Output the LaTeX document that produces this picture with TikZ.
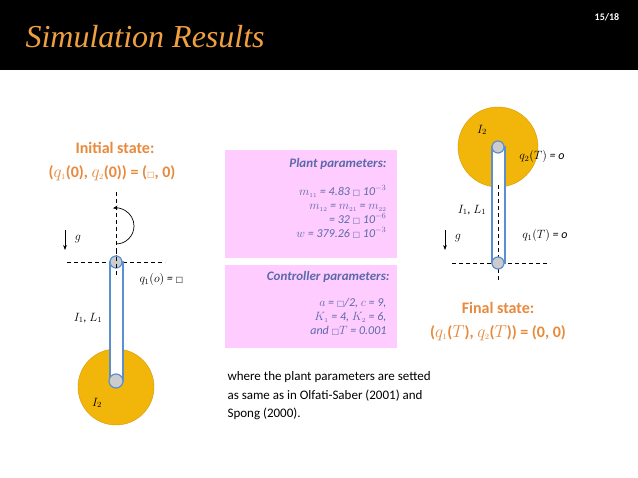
\documentclass[tikz,border=0pt]{standalone}
\usepackage{fontspec}
\setmainfont{Carlito}
\newfontfamily\boxfont{DejaVu Sans}
\newfontfamily\titlefont{Liberation Serif}
\usetikzlibrary{arrows.meta}
\definecolor{ttl}{HTML}{F0A040}
\definecolor{org}{HTML}{E8893C}
\definecolor{pnk}{HTML}{FFCCFF}
\definecolor{blu}{HTML}{5A6AA8}
\definecolor{ball}{HTML}{F2B50A}
\definecolor{balle}{HTML}{D89A00}
\definecolor{lnk}{HTML}{5B8FD0}
\newcommand{\bx}{{\boxfont\fontsize{8}{8}\selectfont □}}
\begin{document}
\begin{tikzpicture}[x=1pt,y=-1pt,
  dsh/.style={line width=0.7pt,dash pattern=on 4pt off 3pt},
  lbl/.style={font=\itshape\fontsize{12}{13}\selectfont},
  st/.style={text=org,font=\bfseries\fontsize{16}{18}\selectfont},
  par/.style={text=blu,font=\itshape\fontsize{12}{14}\selectfont,align=right,anchor=east},
  pbox/.style={fill=pnk,draw=none}]
\useasboundingbox (0,0) rectangle (638,478);
\fill[white] (0,0) rectangle (638,478);
\fill[black] (0,0) rectangle (638,70);
\node[text=ttl,font=\titlefont\itshape\fontsize{32}{34}\selectfont,anchor=west] (title) at (22,37) {Simulation Results};
\node[text=white,font=\bfseries\fontsize{10}{12}\selectfont] (pg) at (607,17) {15/18};
% left pendulum
\node[st] (is) at (115,148) {Initial state:};
\node[st] (ist) at (112,173) {($q_{\scriptscriptstyle 1}$(0), $q_{\scriptscriptstyle 2}$(0)) = (\bx, 0)};
\coordinate (p1) at (116,262);
\coordinate (b1) at (116,381);
\draw[dsh] (67,262) -- (165,262);
\draw[dsh] (116,192) -- (116,292);
\node[circle,fill=ball,draw=balle,minimum size=76pt] (ball1) at (116,387) {};
\draw[lnk,line width=1.5pt,fill=white] (110,262) rectangle (123,381);
\node[circle,fill=gray!40,draw=lnk,line width=1.2pt,minimum size=12pt,inner sep=0] (pc1) at (p1) {};
\node[circle,fill=gray!40,draw=lnk,line width=1.2pt,minimum size=14pt,inner sep=0] (bc1) at (b1) {};
\draw[dsh] (116,250) -- (116,275);
\draw[-{Stealth[length=5pt]},line width=0.7pt] (116,244) arc[start angle=90,end angle=-100,radius=18];
\draw[-{Stealth[length=5pt]},line width=0.7pt] (65,230) -- (65,250);
\node[lbl] (g1) at (78,239) {$g$};
\node[lbl,anchor=west] (q1a) at (136,280) {$q_1(o)$ = \bx};
\node[lbl] (il1) at (88,318) {$I_1$, $L_1$};
\node[lbl] (i21) at (97,403) {$I_2$};
% boxes
\fill[pnk] (225,150) rectangle (397,258);
\fill[pnk] (225,265) rectangle (397,348);
\node[par,font=\bfseries\itshape\fontsize{13}{14}\selectfont] (pp) at (390,164) {Plant parameters:};
\node[par] (pv) at (390,212) {$m_{\scriptscriptstyle 11}$ = 4.83 \bx\ 10$^{-3}$\\ $m_{\scriptscriptstyle 12}$ = $m_{\scriptscriptstyle 21}$ = $m_{\scriptscriptstyle 22}$\\ = 32 \bx\ 10$^{-6}$\\ $w$ = 379.26 \bx\ 10$^{-3}$};
\node[par,font=\bfseries\itshape\fontsize{13}{14}\selectfont] (cp) at (393,277) {Controller parameters:};
\node[par] (cv) at (390,317) {$a$ = \bx/2, $c$ = 9,\\ $K_{\scriptscriptstyle 1}$ = 4, $K_{\scriptscriptstyle 2}$ = 6,\\ and \bx$T$ = 0.001};
% right pendulum
\coordinate (p2) at (498,263);
\coordinate (b2) at (498,147);
\node[circle,fill=ball,draw=balle,minimum size=80pt] (ball2) at (b2) {};
\draw[dsh] (452,263) -- (550,263);
\draw[lnk,line width=1.5pt,fill=white] (492,147) rectangle (505,263);
\draw[dsh] (498,185) -- (498,280);
\node[circle,fill=gray!40,draw=lnk,line width=1.2pt,minimum size=12pt,inner sep=0] (pc2) at (p2) {};
\node[circle,fill=gray!40,draw=lnk,line width=1.2pt,minimum size=12pt,inner sep=0] (bc2) at (b2) {};
\draw[-{Stealth[length=5pt]},line width=0.7pt] (445,230) -- (445,250);
\node[lbl] (g2) at (458,238) {$g$};
\node[lbl] (i22) at (482,130) {$I_2$};
\node[lbl] (q2t) at (542,157) {$q_2(T)$ = o};
\node[lbl] (il2) at (472,210) {$I_1$, $L_1$};
\node[lbl] (q1t) at (545,236) {$q_1(T)$ = o};
\node[st] (fs) at (498,308) {Final state:};
\node[st] (fst) at (498,333) {($q_{\scriptscriptstyle 1}$($T$), $q_{\scriptscriptstyle 2}$($T$)) = (0, 0)};
\node[anchor=north west,align=left,font=\fontsize{13}{18.5}\selectfont] (note) at (224,368) {where the plant parameters are setted\\ as same as in Olfati-Saber (2001) and\\ Spong (2000).};
\end{tikzpicture}
\end{document}
